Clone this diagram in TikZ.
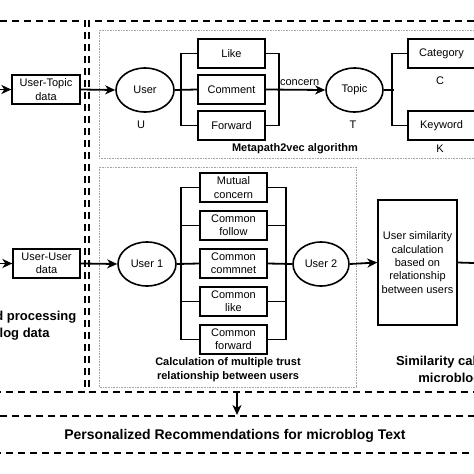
\documentclass[tikz,border=0pt]{standalone}
\usepackage{fontspec}
\setmainfont{Liberation Sans}
\usetikzlibrary{shapes.geometric,arrows.meta}
\begin{document}
\begin{tikzpicture}[x=1pt,y=-1pt,
  txt/.style={font=\fontsize{11}{13.3}\selectfont, inner sep=0pt, align=center},
  box/.style={txt, draw, line width=1.3pt, minimum width=67pt, minimum height=29pt},
  ell/.style={txt, ellipse, draw, line width=1.6pt, minimum width=58pt, minimum height=44pt},
  conn/.style={line width=1.8pt},
  arr/.style={conn, -{Stealth[length=10pt,width=9pt,inset=3pt]}},
  dashbox/.style={draw, line width=2pt, dash pattern=on 7pt off 5pt, fill=none},
  dotbox/.style={draw=gray!70, line width=0.7pt, dash pattern=on 0.8pt off 0.8pt},
  blab/.style={font=\fontsize{11}{14}\selectfont\bfseries, inner sep=0pt, align=center},
  biglab/.style={font=\fontsize{13}{17}\selectfont\bfseries, inner sep=0pt, align=center}
]
\useasboundingbox (0,0) rectangle (474,474);
\clip (0,0) rectangle (474,474);
\fill[white] (0,0) rectangle (474,474);

% outer dashed boxes
\node[dashbox, minimum width=115pt, minimum height=371pt, inner sep=0pt] (lbox) at (27.5,206.5) {};
\node[dashbox, minimum width=451pt, minimum height=371pt, inner sep=0pt] (rbox) at (314.5,206.5) {};
\node[dashbox, minimum width=534pt, minimum height=37pt, inner sep=0pt] (bot) at (237,434.5) {};
\node[biglab, font=\fontsize{14}{17}\selectfont\bfseries] at (235,436) {Personalized Recommendations for microblog Text};
\draw[arr] (rbox.south -| bot.north) -- (bot.north);

% inner dotted boxes
\draw[dotbox] (99,30) rectangle (540,158);
\draw[dotbox] (99,167) rectangle (356,387);

% side labels
\node[biglab] at (-5,325.5) {Collection and processing\\of microblog data};
\node[biglab] at (469,370.5) {Similarity calculation of\\microblog users};

% ---------- top row ----------
\coordinate (in1) at (-10,89.5);
\node[box, minimum width=68pt] (ut) at (46,89.5) {User-Topic\\data};
\draw[arr] (in1) -- (ut.west);

\node[ell] (user) at (145,90) {User};
\node[txt] at (141,125) {U};
\draw[arr] (ut.east) -- (user.west);

\node[box] (like) at (231.5,53.5) {Like};
\node[box] (comment) at (231.5,89.5) {Comment};
\node[box] (fwd) at (231.5,125.5) {Forward};

\draw[conn] (like.west) -- +(-16,0) |- (fwd.west);
\draw[conn] (user.east) -- (comment.west);
\draw[conn] (like.east) -- +(13,0) |- (fwd.east);

\node[ell, minimum width=57pt] (topic) at (354.5,90) {Topic};
\node[txt] at (353,125) {T};
\draw[arr] (comment.east) -- (topic.west) node[pos=0.57, above=3pt, txt] {concern};

\node[box] (cat) at (441.5,53.5) {Category};
\node[box] (kw) at (441.5,125.5) {Keyword};
\node[txt] at (440,81) {C};
\node[txt] at (440,149) {K};
\draw[conn] (cat.west) -- +(-15,0) |- (kw.west);
\draw[conn] (topic.east) -- +(10,0);

\node[blab] at (295,149) {Metapath2vec algorithm};

% ---------- bottom row ----------
\coordinate (in2) at (-10,263.5);
\node[box] (uu) at (46.5,263.5) {User-User\\data};
\draw[arr] (in2) -- (uu.west);

\node[ell] (user1) at (147,264) {User 1};
\draw[arr] (uu.east) -- (user1.west);

\node[box] (m1) at (233.5,187.5) {Mutual\\concern};
\node[box] (m2) at (233.5,225.5) {Common\\follow};
\node[box] (m3) at (233.5,263.5) {Common\\commnet};
\node[box] (m4) at (233.5,301.5) {Common\\like};
\node[box] (m5) at (233.5,339.5) {Common\\forward};

\draw[conn] (m1.west) -- +(-18,0) |- (m5.west);
\draw[conn] (m2.west) -- +(-18,0);
\draw[conn] (m4.west) -- +(-18,0);
\draw[conn] (user1.east) -- (m3.west);

\draw[conn] (m1.east) -- +(18,0) |- (m5.east);
\draw[conn] (m2.east) -- +(18,0);
\draw[conn] (m4.east) -- +(18,0);

\node[ell, minimum width=56pt] (user2) at (321,264) {User 2};
\draw[conn] (m3.east) -- (user2.west);

\node[box, minimum width=79pt, minimum height=125pt] (sim) at (417.5,262.5)
  {User similarity\\calculation\\based on\\relationship\\between users};
\draw[arr] (user2.east) -- (sim.west);
\coordinate (simout) at (490,263.5);
\draw[conn] (sim.east) -- (simout);

\node[blab] at (228,370) {Calculation of multiple trust\\relationship between users};
\end{tikzpicture}
\end{document}
